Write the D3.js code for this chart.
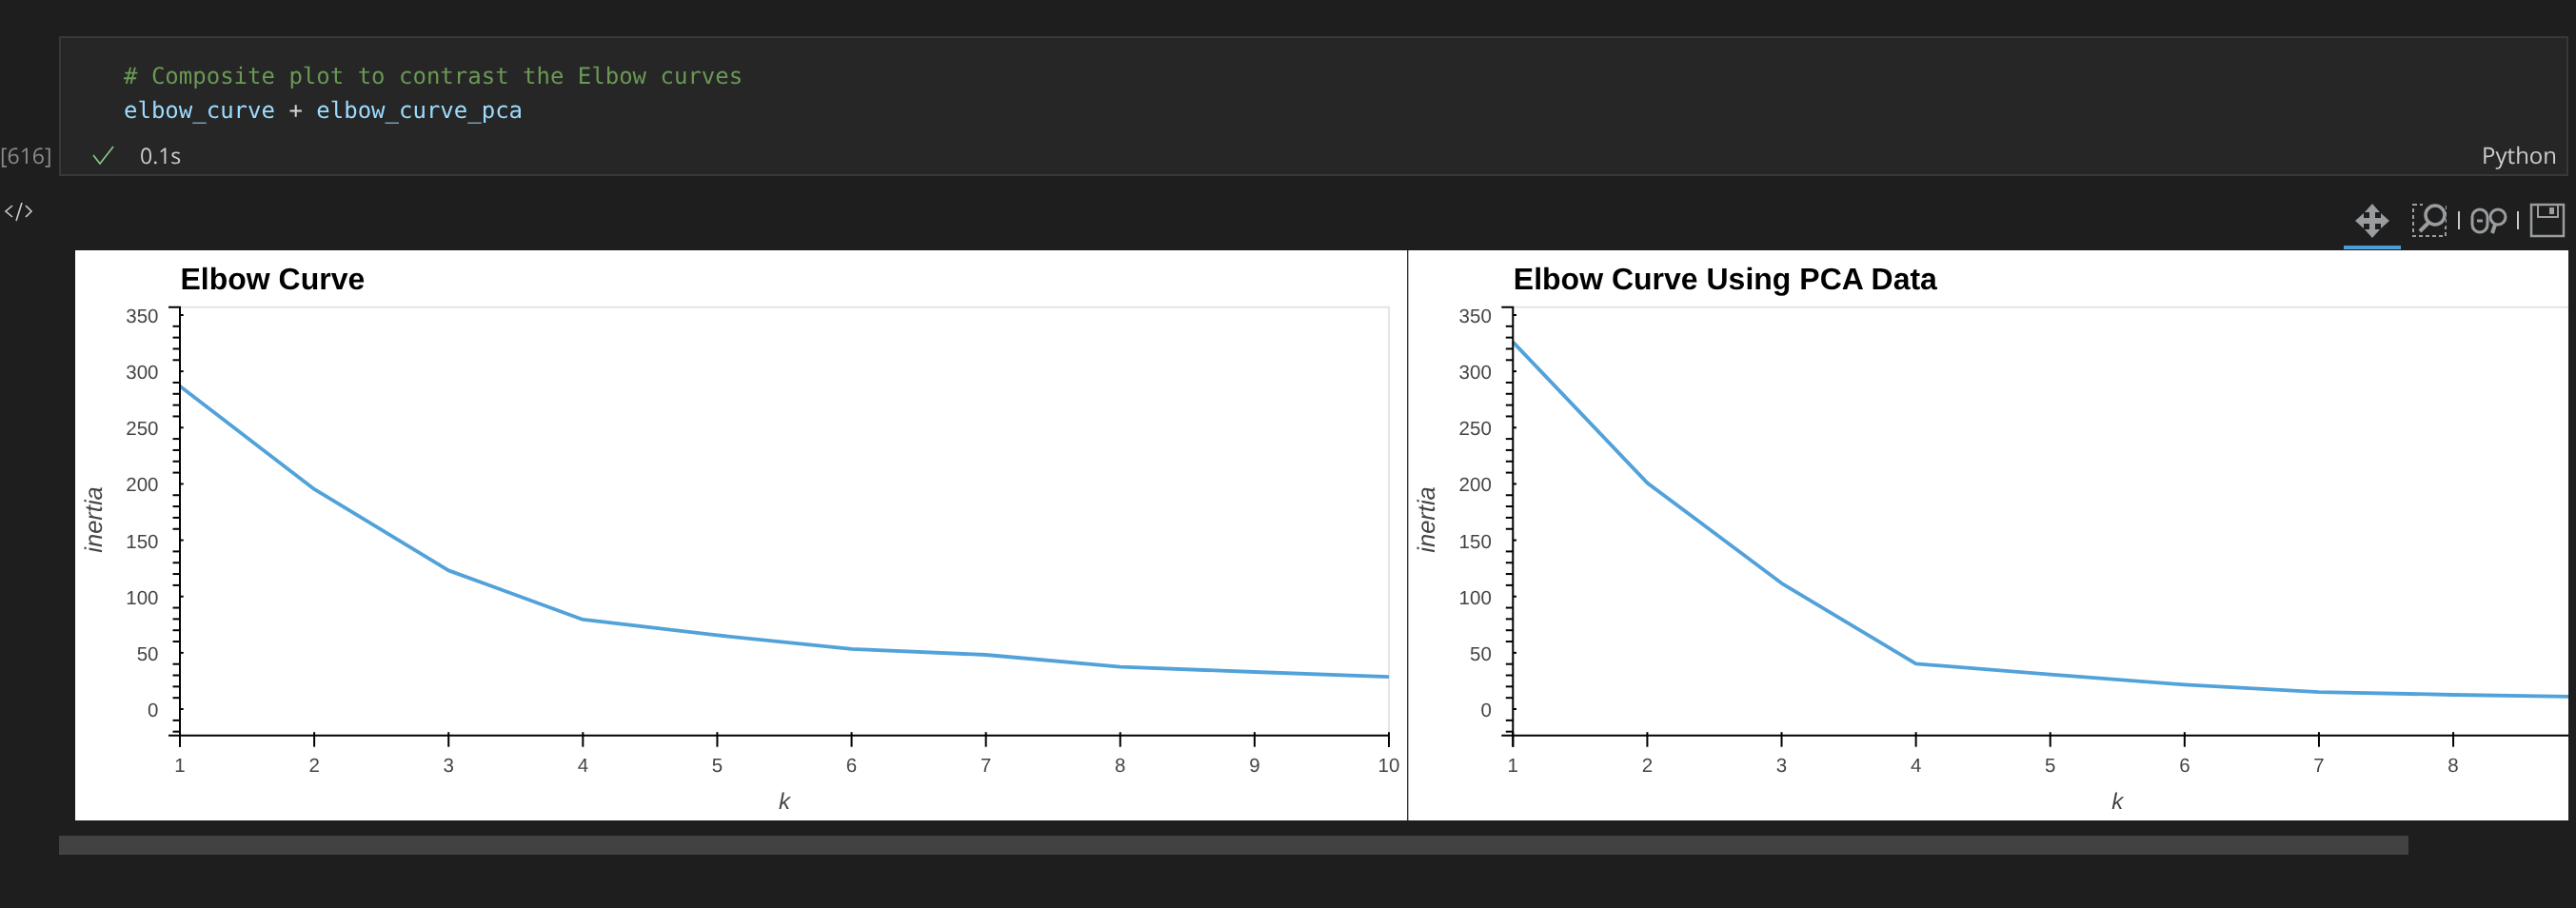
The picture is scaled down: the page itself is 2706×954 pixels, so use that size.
<!DOCTYPE html>
<html><head><meta charset="utf-8">
<script src="https://cdn.jsdelivr.net/npm/d3@7"></script>
<style>
html,body{margin:0;padding:0;background:#1e1e1e;overflow:hidden}
svg{display:block;will-change:transform}
text{font-family:"Liberation Sans",Arial,sans-serif;text-rendering:geometricPrecision}
.code{font-family:"DejaVu Sans Mono",monospace;font-size:24px}
.ui{font-family:"Open Sans",sans-serif}
</style></head><body>
<svg id="c" width="2706" height="954"></svg>
<script>
const kValues = [1,2,3,4,5,6,7,8,9,10];
const inertia = [286.8,195.3,123.1,79.5,65.6,53.3,48.2,37.5,33.0,28.7];
const inertiaPca = [326.0,200.9,111.8,40.3,30.7,21.7,15.2,12.7,10.9,9.4];
const yMajorTicks = [0,50,100,150,200,250,300,350];
const yMinorTicks = [-20,-10,10,20,30,40,60,70,80,90,110,120,130,140,160,170,180,190,210,220,230,240,260,270,280,290,310,320,330,340];
const titles = ["Elbow Curve","Elbow Curve Using PCA Data"];
const svg = d3.select("#c");

// notebook cell chrome
svg.append("rect").attr("x",63).attr("y",39).attr("width",2634).attr("height",145)
   .attr("fill","#262626").attr("stroke","#38383c").attr("stroke-width",2);
svg.append("text").attr("class","code").attr("x",130).attr("y",88).attr("fill","#6a9955")
   .text("# Composite plot to contrast the Elbow curves");
const l2 = svg.append("text").attr("class","code").attr("x",130).attr("y",124).attr("fill","#9cdcfe").attr("xml:space","preserve");
l2.append("tspan").text("elbow_curve ");
l2.append("tspan").attr("fill","#d4d4d4").text("+ ");
l2.append("tspan").text("elbow_curve_pca");
svg.append("text").attr("x",0).attr("y",172).attr("class","ui")
   .style("font-size","23px").attr("fill","#8a8a8a").text("[616]");
svg.append("path").attr("d","M98 163 L105 172 L119 154").attr("fill","none").attr("stroke","#89d185").attr("stroke-width",1.6);
svg.append("text").attr("class","ui").attr("x",147).attr("y",172).attr("fill","#cccccc").style("font-size","23px").text("0.1s");
svg.append("text").attr("class","ui").attr("x",2686).attr("y",172).attr("text-anchor","end").attr("fill","#cccccc").style("font-size","24px").text("Python");
svg.append("path").attr("d","M13 216 L6 222 L13 228 M27 216 L33 222 L27 228 M23 213 L17 232")
   .attr("fill","none").attr("stroke","#cccccc").attr("stroke-width",1.6);

// toolbar
const tool = svg.append("g").attr("fill","none").attr("stroke","#9a9d9f").attr("stroke-width",3);
tool.append("path").attr("stroke","none").attr("fill","#9a9d9f")
   .attr("d","M2492 214 l8 9 h-5 v6 h6 v-5 l9 8 -9 8 v-5 h-6 v6 h5 l-8 9 -8 -9 h5 v-6 h-6 v5 l-9 -8 9 -8 v5 h6 v-6 h-5 z");
svg.append("rect").attr("x",2462).attr("y",258).attr("width",60).attr("height",4).attr("fill","#4a9fd8");
tool.append("rect").attr("x",2535).attr("y",215).attr("width",34).attr("height",33).attr("stroke-width",2).attr("stroke-dasharray","4 3");
tool.append("rect").attr("x",2545).attr("y",212).attr("width",24).attr("height",26).attr("stroke","none").attr("fill","#1e1e1e");
tool.append("circle").attr("cx",2558).attr("cy",226).attr("r",10).attr("stroke-width",3.5);
tool.append("path").attr("d","M2551 234 L2542 243").attr("stroke-width",4);
tool.append("path").attr("d","M2583 222 V241 M2645 222 V241").attr("stroke","#c8c8c8").attr("stroke-width",2);
tool.append("rect").attr("x",2597).attr("y",220).attr("width",16).attr("height",24).attr("rx",8);
tool.append("path").attr("d","M2602 232 H2608");
tool.append("circle").attr("cx",2624).attr("cy",228).attr("r",8);
tool.append("path").attr("d","M2621 236 L2618 245").attr("stroke-width",4);
tool.append("rect").attr("x",2659).attr("y",215).attr("width",34).attr("height",33).attr("stroke-width",2.5);
tool.append("path").attr("d","M2666 215 V228 H2687 V215").attr("stroke-width",2);
tool.append("rect").attr("x",2678).attr("y",218).attr("width",5).attr("height",7).attr("fill","#9a9d9f").attr("stroke","none");

// white plot panel and scrollbar
const px0=79, px1=2698, py0=263, py1=862;
svg.append("rect").attr("x",px0).attr("y",py0).attr("width",px1-px0).attr("height",py1-py0).attr("fill","#fff");
svg.append("rect").attr("x",62).attr("y",878).attr("width",2468).attr("height",20).attr("fill","#424242");
svg.append("rect").attr("x",1478).attr("y",py0).attr("width",1.4).attr("height",py1-py0).attr("fill","#333");
svg.append("clipPath").attr("id","panel").append("rect").attr("x",px0).attr("y",py0).attr("width",px1-px0).attr("height",py1-py0);

function drawPlot(values,title,xLeft){
  const plotLeft = xLeft, plotRight = xLeft + 1270, top = 322.7, bottom = 772.7;
  const x = d3.scaleLinear().domain([1,10]).range([plotLeft,plotRight]);
  const y = d3.scaleLinear().domain([-23.4,357]).range([bottom,top]);
  const g = svg.append("g").attr("clip-path","url(#panel)");
  const shownK = kValues.filter(k=>x(k)<=px1);

  // frame
  g.append("path").attr("fill","none").attr("stroke","#e5e5e5").attr("stroke-width",2)
    .attr("d",`M${plotLeft},${top} H${plotRight} V${bottom}`);

  // line
  const line = d3.line().x((d,i)=>x(kValues[i])).y(d=>y(d));
  g.append("path").datum(values).attr("fill","none").attr("stroke","#52a2da")
    .attr("stroke-width",3.8).attr("stroke-linejoin","round").attr("d",line);

  // x axis
  const ax = g.append("g").attr("transform",`translate(0,${bottom})`)
    .call(d3.axisBottom(x).tickValues(shownK).tickFormat(d3.format("d")).tickSize(12).tickPadding(0).offset(0));
  // y axis
  const ay = g.append("g").attr("transform",`translate(${plotLeft},0)`)
    .call(d3.axisLeft(y).tickValues(yMajorTicks).tickSize(12).tickPadding(0).offset(0));
  const am = g.append("g").attr("transform",`translate(${plotLeft},0)`)
    .call(d3.axisLeft(y).tickValues(yMinorTicks).tickSize(7.5).tickFormat("").offset(0));
  am.select(".domain").remove();
  [ax,ay,am].forEach(a=>{
    a.selectAll(".domain").attr("stroke","#000").attr("stroke-width",2);
    a.selectAll(".tick line").attr("stroke","#000").attr("stroke-width",2);
  });
  ax.selectAll(".tick line").attr("y1",-3.5);
  ay.selectAll(".tick line").attr("x2",3.7);
  ax.selectAll(".tick text").attr("y",38).attr("dy",0).attr("fill","#444").style("font-size","20.5px").style("font-family","'Liberation Sans'");
  ay.selectAll(".tick text").attr("x",-22.5).attr("dy","0.39em").attr("fill","#444").style("font-size","20.5px").style("font-family","'Liberation Sans'");

  // titles
  g.append("text").attr("x",plotLeft+0.5).attr("y",304).attr("font-weight","bold").attr("fill","#000")
    .style("font-size","32px").text(title);
  g.append("text").attr("x",x(5.5)).attr("y",850).attr("text-anchor","middle").attr("font-style","italic")
    .attr("fill","#444").style("font-size","24px").text("k");
  g.append("text").attr("transform",`translate(${plotLeft-82},${546}) rotate(-90)`).attr("text-anchor","middle")
    .attr("font-style","italic").attr("fill","#444").style("font-size","25.5px").text("inertia");
}
drawPlot(inertia,titles[0],189);
drawPlot(inertiaPca,titles[1],1589.3);
</script>
</body></html>
